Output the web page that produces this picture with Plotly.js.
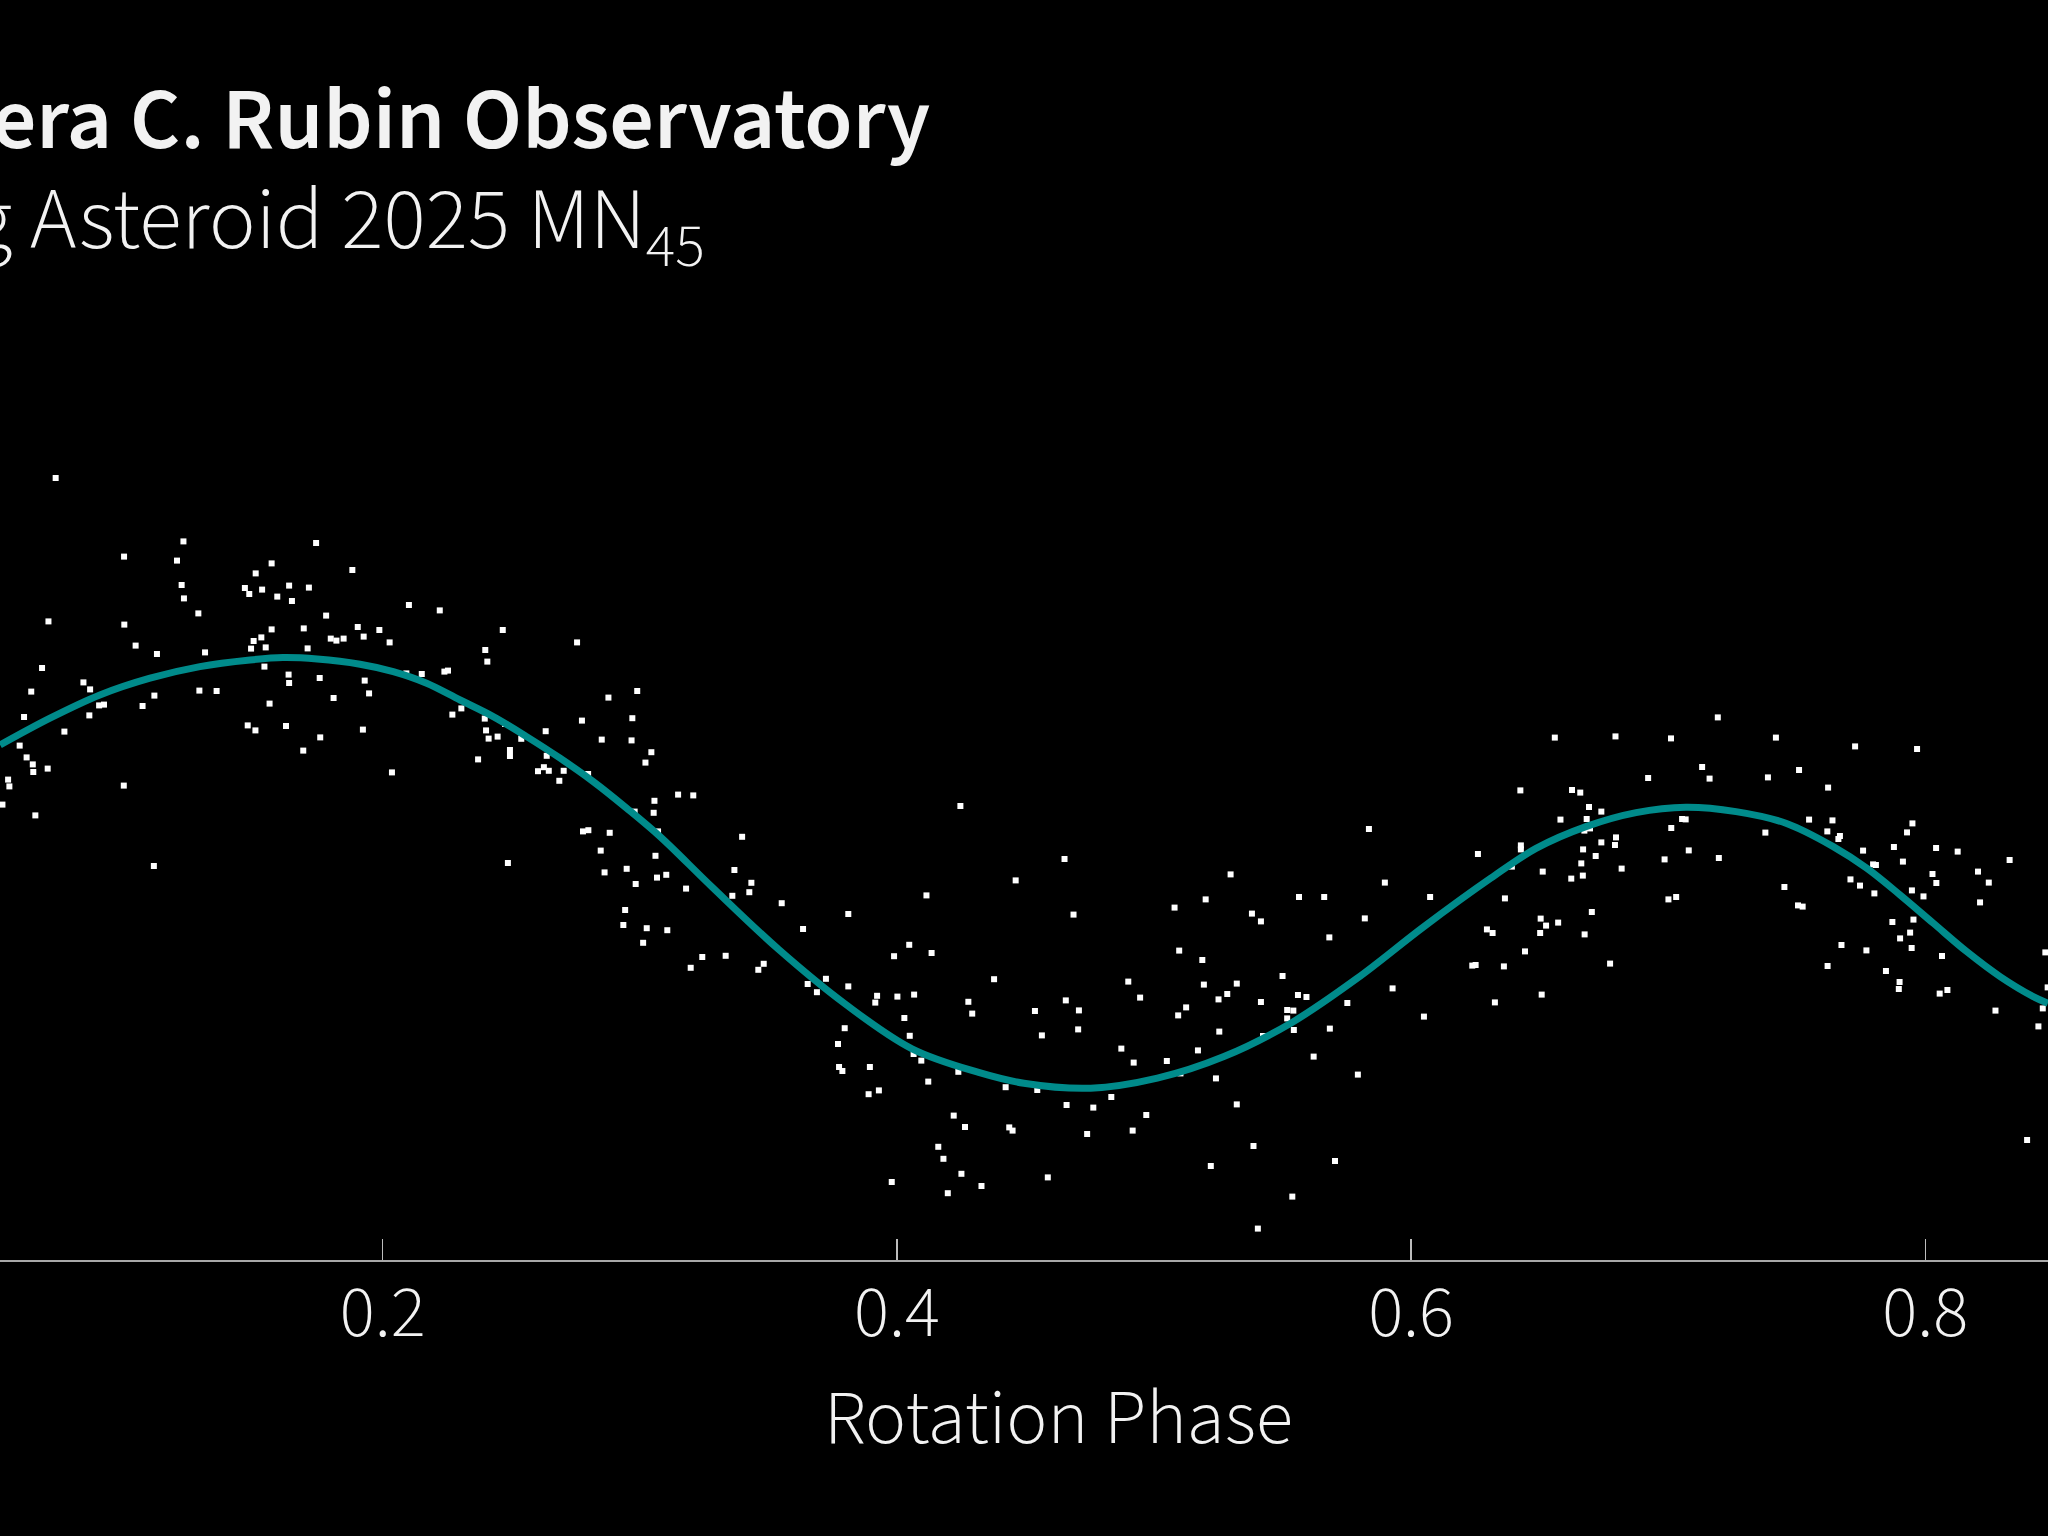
<!DOCTYPE html>
<html>
<head>
<meta charset="utf-8">
<script src="https://cdn.plot.ly/plotly-3.0.1.min.js"></script>
<style>
  html, body { margin: 0; padding: 0; background: #000; }
  #plot { width: 2048px; height: 1536px; }
</style>
</head>
<body>
<div id="plot"></div>
<script>
// measured brightness (relative flux) against rotation phase
var pointPhase = [
  0.0728, 0.0994, 0.1225, 0.1200, 0.1218, 0.1227, 0.1283, 0.0995, 0.0700, 0.0675,
  0.0633, 0.0605, 0.0588, 0.0615, 0.0639, 0.0641, 0.0697, 0.0543, 0.0548, 0.0521,
  0.0649, 0.0762, 0.0836, 0.0862, 0.0859, 0.0897, 0.0916, 0.1039, 0.1122, 0.1066,
  0.1112, 0.0993, 0.1309, 0.1287, 0.1354, 0.1464, 0.1481, 0.1506, 0.1531, 0.1568,
  0.1590, 0.1636, 0.1647, 0.1713, 0.1741, 0.1780, 0.1693, 0.1568, 0.1528, 0.1498,
  0.1488, 0.1545, 0.1708, 0.1540, 0.1634, 0.1636, 0.1755, 0.1560, 0.1475, 0.1505,
  0.1624, 0.1757, 0.1691, 0.1798, 0.1820, 0.1848, 0.1882, 0.1903, 0.1926, 0.1987,
  0.2027, 0.2102, 0.2222, 0.1930, 0.1947, 0.1809, 0.1923, 0.2036, 0.2092, 0.2152,
  0.2240, 0.2254, 0.2271, 0.2306, 0.2399, 0.2407, 0.2467, 0.2397, 0.2402, 0.2412,
  0.2447, 0.2371, 0.2476, 0.2495, 0.2495, 0.1110, 0.2487,
  0.2756, 0.2878, 0.2990, 0.2775, 0.2971, 0.2852, 0.2968, 0.2634, 0.2539, 0.2638,
  0.2604, 0.2627, 0.2646, 0.2704, 0.2687, 0.2799, 0.3045, 0.3022, 0.3057, 0.3054,
  0.2980, 0.3149, 0.3208, 0.3071, 0.2779, 0.2800, 0.2883, 0.2848, 0.3061, 0.2863,
  0.2949, 0.2984, 0.3067, 0.3103, 0.3180, 0.3398, 0.3368, 0.3434, 0.3426, 0.3360,
  0.3552, 0.2943, 0.2936, 0.3027, 0.3107, 0.3013, 0.3243, 0.3198, 0.3334, 0.3461,
  0.3482, 0.3635, 0.3811, 0.4247, 0.4115, 0.4462, 0.4048, 0.3989, 0.4135, 0.4378,
  0.3724, 0.3653, 0.3689, 0.3811, 0.3923, 0.3916, 0.4002, 0.4067, 0.4278, 0.4293,
  0.4029, 0.3797, 0.3771, 0.4050, 0.4065, 0.4095, 0.3775, 0.3788, 0.3895, 0.4122,
  0.4239, 0.3890, 0.3930, 0.4423, 0.4221, 0.4265, 0.4437, 0.4450, 0.4161, 0.4181,
  0.4251, 0.3980, 0.4198, 0.4329,
  0.4652, 0.4687, 0.4537, 0.4564, 0.4657, 0.4708, 0.4705, 0.4546, 0.4660, 0.4764,
  0.4834, 0.4740, 0.4587, 0.4917, 0.4970, 0.4873, 0.4921, 0.4900, 0.4946, 0.5050,
  0.5080, 0.5098, 0.5188, 0.5201, 0.5194, 0.5094, 0.5125, 0.5251, 0.5285, 0.5322,
  0.5254, 0.5171, 0.5241, 0.5322, 0.5298, 0.5381, 0.5416, 0.5387, 0.5221, 0.5500,
  0.5416, 0.5424, 0.5518, 0.5542, 0.5518, 0.5544, 0.5560, 0.5593, 0.5621, 0.5684,
  0.5752, 0.5564, 0.5662, 0.5682, 0.5793, 0.5704, 0.5538, 0.5404, 0.5836, 0.5898,
  0.5820, 0.5928, 0.6074, 0.6050, 0.6260, 0.6425, 0.6427, 0.6427, 0.6392, 0.6365,
  0.6295, 0.6317, 0.6443, 0.6238, 0.6251, 0.6361, 0.6326, 0.5103,
  0.6559, 0.6795, 0.7011, 0.7193, 0.7419, 0.7727, 0.7968, 0.6922, 0.7132, 0.7161,
  0.7388, 0.7509, 0.7622, 0.6626, 0.6658, 0.6692, 0.6740, 0.6581, 0.6683, 0.6696,
  0.6674, 0.7054, 0.7068, 0.7012, 0.6797, 0.6740, 0.6793, 0.6669, 0.6718, 0.6662,
  0.6512, 0.6623, 0.6668, 0.6819, 0.6986, 0.7080, 0.7197, 0.7378, 0.7548, 0.7639,
  0.7619, 0.7668, 0.7662, 0.7758, 0.7797, 0.7808, 0.7950, 0.7929, 0.7878, 0.7913,
  0.8042, 0.8126, 0.8328, 0.8205, 0.8247, 0.8028, 0.8043, 0.8213, 0.7709, 0.7746,
  0.7802, 0.7948, 0.7993, 0.7452, 0.7505, 0.7523, 0.7001, 0.7031, 0.6703, 0.6504,
  0.6525, 0.6572, 0.6502, 0.6675, 0.6774, 0.6508, 0.7674, 0.7771, 0.7620, 0.7872,
  0.7954, 0.7941, 0.7902, 0.7947, 0.7847, 0.8065, 0.7900, 0.7897, 0.8056, 0.8086,
  0.8273, 0.8440, 0.8457, 0.8467, 0.8476, 0.8396
];

var pointFlux = [
  1.1960, 1.1567, 1.1643, 1.1547, 1.1425, 1.1358, 1.1283, 1.1227, 1.1243, 1.1010,
  1.0892, 1.0765, 1.0622, 1.0563, 1.0528, 1.0490, 1.0507, 1.0452, 1.0418, 1.0327,
  1.0273, 1.0692, 1.0938, 1.0903, 1.0773, 1.0823, 1.0827, 1.1122, 1.1080, 1.0820,
  1.0872, 1.0422, 1.1088, 1.0897, 1.0895, 1.1410, 1.1380, 1.1483, 1.1402, 1.1533,
  1.1367, 1.1422, 1.1345, 1.1412, 1.1635, 1.1272, 1.1208, 1.1203, 1.1163, 1.1145,
  1.1107, 1.1113, 1.1108, 1.1017, 1.0977, 1.0935, 1.0960, 1.0832, 1.0723, 1.0698,
  1.0720, 1.0663, 1.0597, 1.1157, 1.1147, 1.1157, 1.1500, 1.1215, 1.1167, 1.1200,
  1.1138, 1.1325, 1.1298, 1.0947, 1.0883, 1.0860, 1.0702, 1.0488, 1.0983, 1.0980,
  1.0992, 1.0997, 1.0777, 1.0808, 1.1100, 1.1042, 1.1200, 1.0757, 1.0698, 1.0657,
  1.0667, 1.0553, 1.0730, 1.0600, 1.0570, 1.0020, 1.0035,
  1.1138, 1.0862, 1.0895, 1.0747, 1.0759, 1.0652, 1.0648, 1.0694, 1.0656, 1.0571,
  1.0494, 1.0514, 1.0496, 1.0496, 1.0446, 1.0480, 1.0589, 1.0537, 1.0346, 1.0286,
  1.0292, 1.0377, 1.0373, 1.0193, 1.0193, 1.0199, 1.0186, 1.0097, 1.0071, 0.9988,
  1.0006, 0.9930, 0.9962, 0.9976, 0.9907, 1.0166, 1.0000, 0.9936, 0.9889, 0.9871,
  0.9834, 0.9800, 0.9725, 0.9709, 0.9699, 0.9636, 0.9565, 0.9511, 0.9571, 0.9501,
  0.9531, 0.9705, 0.9780, 1.0320, 0.9873, 0.9948, 0.9626, 0.9569, 0.9585, 0.9454,
  0.9456, 0.9430, 0.9389, 0.9418, 0.9371, 0.9337, 0.9367, 0.9377, 0.9341, 0.9282,
  0.9260, 0.9209, 0.9130, 0.9171, 0.9080, 0.9047, 0.9015, 0.8995, 0.9015, 0.8942,
  0.8991, 0.8879, 0.8898, 0.8914, 0.8772, 0.8715, 0.8713, 0.8697, 0.8616, 0.8556,
  0.8481, 0.8440, 0.8384, 0.8420,
  1.0055, 0.9777, 0.9295, 0.9173, 0.9348, 0.9298, 0.9203, 0.8900, 0.8825, 0.8812,
  0.8865, 0.8680, 0.8463, 0.8697, 0.8775, 0.9107, 0.9037, 0.9442, 0.9362, 0.9045,
  0.9812, 0.9597, 0.9550, 0.9853, 0.9427, 0.9273, 0.9313, 0.9353, 0.9380, 0.9432,
  0.9192, 0.9098, 0.8958, 0.8828, 0.9978, 0.9782, 0.9743, 0.8620, 0.8520, 0.9470,
  0.9340, 0.9170, 0.9300, 0.9297, 0.9258, 0.9200, 0.9375, 0.9365, 0.9067, 0.9207,
  0.9335, 0.9865, 0.9865, 0.9663, 0.8977, 0.8545, 0.8367, 0.8207, 1.0205, 0.9937,
  0.9758, 0.9408, 0.9865, 0.9267, 1.0080, 1.0398, 1.0123, 1.0103, 1.0017, 0.9858,
  0.9703, 0.9685, 0.9593, 0.9522, 0.9525, 0.9518, 0.9338, 0.8983,
  1.0662, 1.0668, 1.0658, 1.0763, 1.0662, 1.0618, 1.0605, 1.0460, 1.0515, 1.0457,
  1.0463, 1.0500, 1.0412, 1.0400, 1.0387, 1.0315, 1.0292, 1.0252, 1.0255, 1.0208,
  1.0197, 1.0255, 1.0253, 1.0210, 1.0163, 1.0138, 1.0125, 1.0103, 1.0070, 1.0033,
  0.9992, 0.9957, 0.9972, 1.0007, 1.0053, 1.0098, 1.0060, 1.0187, 1.0252, 1.0248,
  1.0193, 1.0170, 1.0155, 1.0097, 1.0028, 1.0025, 1.0233, 1.0188, 1.0115, 1.0042,
  1.0110, 1.0092, 1.0050, 0.9992, 0.9937, 0.9980, 0.9935, 0.9838, 0.9953, 0.9922,
  0.9883, 0.9898, 0.9868, 0.9915, 0.9823, 0.9817, 0.9853, 0.9865, 0.9790, 0.9757,
  0.9722, 0.9737, 0.9685, 0.9678, 0.9532, 0.9377, 0.9625, 0.9598, 0.9520, 0.9740,
  0.9752, 0.9687, 0.9658, 0.9610, 0.9495, 0.9570, 0.9440, 0.9405, 0.9382, 0.9400,
  0.9297, 0.9218, 0.9308, 0.9588, 0.9413, 0.8650
];

// fitted light curve
var fitPhase = [
  0.0512, 0.0706, 0.0900, 0.1095, 0.1289, 0.1484, 0.1612, 0.1745, 0.1912, 0.2041,
  0.2171, 0.2301, 0.2430, 0.2560, 0.2690, 0.2819, 0.2949, 0.3079, 0.3281, 0.3540,
  0.3799, 0.4059, 0.4318, 0.4494, 0.4754, 0.5013, 0.5272, 0.5532, 0.5791, 0.6050,
  0.6310, 0.6486, 0.6680, 0.6875, 0.7069, 0.7264, 0.7458, 0.7642, 0.7772, 0.7902,
  0.8031, 0.8161, 0.8291, 0.8420, 0.8477
];
var fitFlux = [
  1.0625, 1.0759, 1.0875, 1.0959, 1.1017, 1.1050, 1.1062, 1.1055, 1.1029, 1.0992,
  1.0934, 1.0850, 1.0767, 1.0667, 1.0559, 1.0442, 1.0309, 1.0167, 0.9915, 0.9603,
  0.9330, 0.9106, 0.8988, 0.8934, 0.8909, 0.8959, 0.9067, 0.9234, 0.9459, 0.9717,
  0.9959, 1.0108, 1.0217, 1.0287, 1.0314, 1.0292, 1.0234, 1.0117, 1.0009, 0.9875,
  0.9734, 0.9592, 0.9467, 0.9367, 0.9334
];

var tickVals = [0.2, 0.4, 0.6, 0.8];
var tickText = ["0.2", "0.4", "0.6", "0.8"];

var fontFamily = "'Source Sans Pro', 'Source Sans 3', Lato, 'Noto Sans', sans-serif";

var points = {
  x: pointPhase,
  y: pointFlux,
  type: "scatter",
  mode: "markers",
  marker: { symbol: "square", size: 6, color: "#ffffff" },
  hoverinfo: "skip"
};

var fit = {
  x: fitPhase,
  y: fitFlux,
  type: "scatter",
  mode: "lines",
  line: { color: "#008b8b", width: 7, shape: "spline", smoothing: 1 },
  hoverinfo: "skip"
};

var layout = {
  width: 2048,
  height: 1536,
  paper_bgcolor: "#000000",
  plot_bgcolor: "#000000",
  showlegend: false,
  margin: { l: 0, r: 0, t: 0, b: 276, pad: 0 },
  font: { family: fontFamily, color: "#f2f2f2" },
  xaxis: {
    range: [0.05115, 0.84773],
    tickvals: tickVals,
    ticktext: tickText,
    ticks: "inside",
    ticklen: 21,
    tickwidth: 1.5,
    tickcolor: "#bdbdbd",
    showline: true,
    linecolor: "#a8a8a8",
    linewidth: 2,
    showgrid: false,
    zeroline: false,
    ticklabelstandoff: -14,
    tickfont: { family: fontFamily, size: 73, color: "#f2f2f2", weight: 300 }
  },
  yaxis: {
    range: [0.805, 1.435],
    visible: false,
    fixedrange: true
  },
  annotations: [
    {
      text: "Vera C. Rubin Observatory",
      xref: "paper", yref: "paper",
      x: 932 / 2048, y: 0.904,
      xanchor: "right", yanchor: "middle",
      showarrow: false,
      font: { family: fontFamily, size: 88, color: "#f2f2f2", weight: 600 }
    },
    {
      text: "Fast-Rotating Asteroid 2025 MN<sub>45</sub>",
      xref: "paper", yref: "paper",
      x: 707 / 2048, y: 0.8218,
      xanchor: "right", yanchor: "middle",
      showarrow: false,
      font: { family: fontFamily, size: 88, color: "#f2f2f2", weight: 300 }
    },
    {
      text: "Rotation Phase",
      xref: "paper", yref: "paper",
      x: 1058 / 2048, y: -0.1262,
      xanchor: "center", yanchor: "middle",
      showarrow: false,
      font: { family: fontFamily, size: 77, color: "#f2f2f2", weight: 300 }
    }
  ]
};

Plotly.newPlot("plot", [points, fit], layout, { displayModeBar: false, staticPlot: true });
</script>
</body>
</html>
